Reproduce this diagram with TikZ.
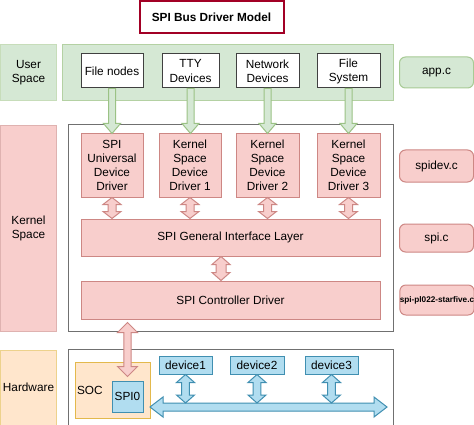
\documentclass[tikz,border=0pt]{standalone}
\usepackage{fontspec}
\setmainfont{Liberation Sans}
\usetikzlibrary{calc}
\definecolor{gfill}{HTML}{D5E8D4}
\definecolor{gdraw}{HTML}{82B366}
\definecolor{pfill}{HTML}{F8CECC}
\definecolor{pdraw}{HTML}{B85450}
\definecolor{ofill}{HTML}{FFE6CC}
\definecolor{odraw}{HTML}{D79B00}
\definecolor{bfill}{HTML}{B1DDF0}
\definecolor{bdraw}{HTML}{10739E}
\definecolor{tred}{HTML}{A20025}
\definecolor{frame}{HTML}{707070}
\newcommand\vdarr[6]{%
  \draw[#1] let \p1=(#2), \p2=(#3) in
    (\x1,\y1) -- (\x1+#5pt,\y1-#6pt) -- (\x1+#4pt,\y1-#6pt) -- (\x1+#4pt,\y2+#6pt)
    -- (\x1+#5pt,\y2+#6pt) -- (\x1,\y2) -- (\x1-#5pt,\y2+#6pt) -- (\x1-#4pt,\y2+#6pt)
    -- (\x1-#4pt,\y1-#6pt) -- (\x1-#5pt,\y1-#6pt) -- cycle;}
\newcommand\vsarr[6]{%
  \draw[#1] let \p1=(#2), \p2=(#3) in
    (\x1-#4pt,\y1) -- (\x1-#4pt,\y2+#6pt) -- (\x1-#5pt,\y2+#6pt) -- (\x1,\y2)
    -- (\x1+#5pt,\y2+#6pt) -- (\x1+#4pt,\y2+#6pt) -- (\x1+#4pt,\y1) -- cycle;}
\newcommand\hdarr[6]{%
  \draw[#1] let \p1=(#2), \p2=(#3) in
    (\x1,\y1) -- (\x1+#6pt,\y1+#5pt) -- (\x1+#6pt,\y1+#4pt) -- (\x2-#6pt,\y1+#4pt)
    -- (\x2-#6pt,\y1+#5pt) -- (\x2,\y1) -- (\x2-#6pt,\y1-#5pt) -- (\x2-#6pt,\y1-#4pt)
    -- (\x1+#6pt,\y1-#4pt) -- (\x1+#6pt,\y1-#5pt) -- cycle;}
\begin{document}
\begin{tikzpicture}[x=1pt,y=-1pt,
  base/.style={font=\fontsize{11.8}{14}\selectfont, align=center, inner sep=0pt, line width=1pt},
  sideg/.style={base, draw=gdraw!45, fill=gfill},
  sidep/.style={base, draw=pdraw!45, fill=pfill},
  sideo/.style={base, draw=odraw!45, fill=ofill},
  ubox/.style={base, draw=gdraw!60, fill=gfill},
  frm/.style={base, draw=frame, fill=white},
  wbox/.style={base, draw=black!75, fill=white},
  pbox/.style={base, draw=pdraw!70, fill=pfill},
  gfile/.style={base, draw=gdraw!70, fill=gfill, rounded corners=6pt},
  pfile/.style={base, draw=pdraw!70, fill=pfill, rounded corners=6pt},
  obox/.style={base, draw=odraw!70, fill=ofill},
  bbox/.style={base, draw=bdraw!80, fill=bfill},
  garr/.style={draw=gdraw!80, fill=gfill, line width=1pt},
  parr/.style={draw=pdraw!70, fill=pfill, line width=1pt},
  barr/.style={draw=bdraw!80, fill=bfill, line width=1pt},
  titlebox/.style={base, draw=tred, line width=2pt, fill=white, font=\fontsize{11.8}{14}\selectfont\bfseries}
]
\useasboundingbox (0,0) rectangle (474,425);
\clip (0,0) rectangle (474,425);
\fill[white] (0,0) rectangle (474,425);

% title
\node[titlebox, minimum width=144pt, minimum height=32pt] (title) at (211.5,17) {SPI Bus Driver Model};

% user space
\node[sideg, minimum width=56pt, minimum height=56pt] (userlbl) at (28.5,73) {User\\Space};
\node[ubox, minimum width=331pt, minimum height=56pt] (userbox) at (227.5,73) {};
\node[wbox, minimum width=62pt, minimum height=34pt] (fn) at (112,71) {File nodes};
\node[wbox, minimum width=57pt, minimum height=34pt] (tty) at (190.5,71) {TTY\\Devices};
\node[wbox, minimum width=63pt, minimum height=34pt] (net) at (267.5,71) {Network\\Devices};
\node[wbox, minimum width=63pt, minimum height=34pt] (fs) at (348.5,71) {File\\System};
\node[gfile, minimum width=74pt, minimum height=31pt] (appc) at (436.5,72.5) {app.c};

% kernel space
\node[sidep, minimum width=56pt, minimum height=205pt] (kernlbl) at (28.5,228.5) {Kernel\\Space};
\node[frm, minimum width=325pt, minimum height=206pt] (kernbox) at (230.5,228) {};
\node[pbox, minimum width=62pt, minimum height=63pt] (d0) at (112,165.5) {SPI\\Universal\\Device\\Driver};
\node[pbox, minimum width=62pt, minimum height=63pt] (d1) at (190,165.5) {Kernel\\Space\\Device\\Driver 1};
\node[pbox, minimum width=63pt, minimum height=63pt] (d2) at (267.5,165.5) {Kernel\\Space\\Device\\Driver 2};
\node[pbox, minimum width=63pt, minimum height=63pt] (d3) at (348.5,165.5) {Kernel\\Space\\Device\\Driver 3};
\node[pbox, minimum width=299pt, minimum height=37pt] (layer) at (230.5,237.5) {SPI General Interface Layer};
\node[pbox, minimum width=299pt, minimum height=38pt] (ctrl) at (230.5,300) {SPI Controller Driver};
\node[pfile, minimum width=74pt, minimum height=32pt] (spidev) at (436.5,166) {spidev.c};
\node[pfile, minimum width=74pt, minimum height=28pt] (spic) at (436.5,238) {spi.c};
\node[pfile, minimum width=74pt, minimum height=30pt, font=\fontsize{8.2}{10}\selectfont\bfseries] (spipl) at (437,300) {spi-pl022-starfive.c};

% hardware
\node[sideo, minimum width=56pt, minimum height=84pt] (hwlbl) at (28.5,392) {};
\node[base] (hwtxt) at (28.5,387) {Hardware};
\node[frm, minimum width=325pt, minimum height=84pt] (hwbox) at (230.5,391) {};
\node[obox, minimum width=75pt, minimum height=56pt] (soc) at (112.5,390) {};
\node[base, anchor=west] (soctxt) at (76.5,390) {SOC};
\node[bbox, minimum width=31pt, minimum height=31pt] (spi0) at (127.5,396.5) {SPI0};
\node[bbox, minimum width=53pt, minimum height=18pt] (dev1) at (185.5,365) {device1};
\node[bbox, minimum width=54pt, minimum height=18pt] (dev2) at (257,365) {device2};
\node[bbox, minimum width=53pt, minimum height=18pt] (dev3) at (331.5,365) {device3};
\coordinate (busL) at (150,407);
\coordinate (busR) at (387,407);

% green arrows user -> kernel
\vsarr{garr}{fn.south}{d0.north}{3.5}{8.5}{10}
\vsarr{garr}{tty.south}{d1.north}{3.5}{8.5}{10}
\vsarr{garr}{net.south}{d2.north}{3.5}{8.5}{10}
\vsarr{garr}{fs.south}{d3.north}{3.5}{8.5}{10}

% pink double arrows
\vdarr{parr}{d0.south}{layer.north}{4}{9}{7}
\vdarr{parr}{d1.south}{layer.north}{4}{9}{7}
\vdarr{parr}{d2.south}{layer.north}{4}{9}{7}
\vdarr{parr}{d3.south}{layer.north}{4}{9}{7}
\vdarr{parr}{[xshift=-9.5pt]layer.south}{ctrl.north}{5}{9}{8}
\vdarr{parr}{$(spi0.north |- ctrl.south)+(0,3)$}{$(spi0.north)+(0,-4)$}{3.7}{10}{10}

% blue arrows
\hdarr{barr}{busL}{busR}{4}{10}{13}
\vdarr{barr}{dev1.south}{$(busL)+(0,-4)$}{3.8}{9}{8}
\vdarr{barr}{dev2.south}{$(busL)+(0,-4)$}{3.8}{9}{8}
\vdarr{barr}{dev3.south}{$(busL)+(0,-4)$}{3.8}{9}{8}
\end{tikzpicture}
\end{document}
